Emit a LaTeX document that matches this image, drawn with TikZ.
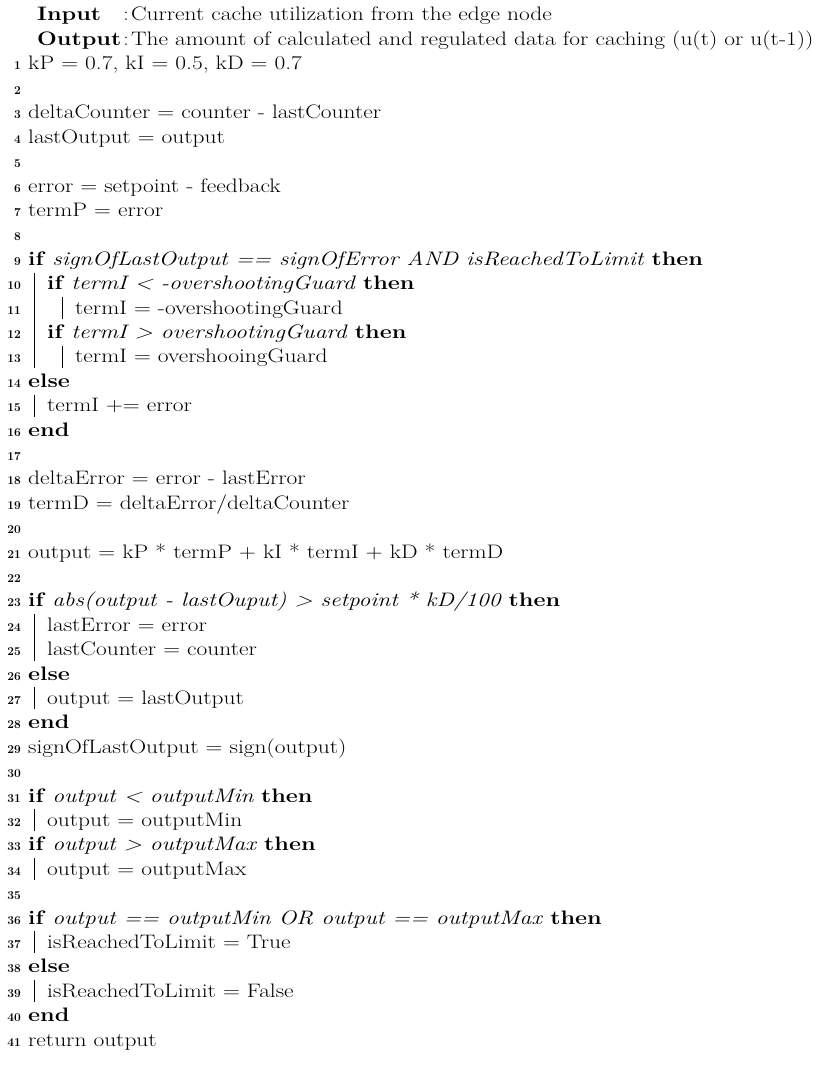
\documentclass[tikz,border=0pt]{standalone}
\usepackage{graphicx}
\newcommand\ly[1]{64+24.4*(#1-1)}
\newcommand\sx[1]{\scalebox{1.2}[1]{#1}}
\newcommand\algline[3]{%
 \node[anchor=base west,inner sep=0,font=\fontsize{19.5}{23}\selectfont] (l#1) at (#2,{\ly{#1}+6}) {\sx{#3}};
 \node[anchor=base east,inner sep=0,font=\fontsize{12}{14}\selectfont\bfseries] (n#1) at (21,{\ly{#1}+6}) {#1};}
\newcommand\algnum[1]{\node[anchor=base east,inner sep=0,font=\fontsize{12}{14}\selectfont\bfseries] (n#1) at (21,{\ly{#1}+6}) {#1};}
\newcommand\algbar[3]{\draw[line width=0.8pt] (#1,{\ly{#2}-11}) -- (#1,{\ly{#3}+11});}
\begin{document}
\begin{tikzpicture}[x=1pt,y=-1pt]
\useasboundingbox (0,0) rectangle (832,1070);
\tikzset{hd/.style={anchor=base west,inner sep=0,font=\fontsize{19.5}{23}\selectfont}}
\node[hd,font=\fontsize{19.5}{23}\selectfont\bfseries] (inp) at (37,21) {\sx{Input}};
\node[hd,font=\fontsize{19.5}{23}\selectfont\bfseries] (out) at (37,46) {\sx{Output}};
\node[hd] (inpc) at ([xshift=2pt]out.base east |- inp.base) {:};
\node[hd] (outc) at ([xshift=2pt]out.base east) {:};
\node[hd] (inpt) at ([xshift=2pt]inpc.base east) {\sx{Current cache utilization from the edge node}};
\node[hd] (outt) at ([xshift=2pt]outc.base east) {\sx{The amount of calculated and regulated data for caching (u(t) or u(t-1))}};
\algline{1}{28}{kP = 0.7, kI = 0.5, kD = 0.7}
\algnum{2}
\algline{3}{28}{deltaCounter = counter - lastCounter}
\algline{4}{28}{lastOutput = output}
\algnum{5}
\algline{6}{28}{error = setpoint - feedback}
\algline{7}{28}{termP = error}
\algnum{8}
\algline{9}{28}{\textbf{if} \textit{signOfLastOutput == signOfError AND isReachedToLimit} \textbf{then}}
\algline{10}{47}{\textbf{if} \textit{termI < -overshootingGuard} \textbf{then}}
\algline{11}{75}{termI = -overshootingGuard}
\algline{12}{47}{\textbf{if} \textit{termI > overshootingGuard} \textbf{then}}
\algline{13}{75}{termI = overshooingGuard}
\algline{14}{28}{\textbf{else}}
\algline{15}{47}{termI += error}
\algline{16}{28}{\textbf{end}}
\algnum{17}
\algline{18}{28}{deltaError = error - lastError}
\algline{19}{28}{termD = deltaError/deltaCounter}
\algnum{20}
\algline{21}{28}{output = kP * termP + kI * termI + kD * termD}
\algnum{22}
\algline{23}{28}{\textbf{if} \textit{abs(output - lastOuput) > setpoint * kD/100} \textbf{then}}
\algline{24}{47}{lastError = error}
\algline{25}{47}{lastCounter = counter}
\algline{26}{28}{\textbf{else}}
\algline{27}{47}{output = lastOutput}
\algline{28}{28}{\textbf{end}}
\algline{29}{28}{signOfLastOutput = sign(output)}
\algnum{30}
\algline{31}{28}{\textbf{if} \textit{output < outputMin} \textbf{then}}
\algline{32}{47}{output = outputMin}
\algline{33}{28}{\textbf{if} \textit{output > outputMax} \textbf{then}}
\algline{34}{47}{output = outputMax}
\algnum{35}
\algline{36}{28}{\textbf{if} \textit{output == outputMin OR output == outputMax} \textbf{then}}
\algline{37}{47}{isReachedToLimit = True}
\algline{38}{28}{\textbf{else}}
\algline{39}{47}{isReachedToLimit = False}
\algline{40}{28}{\textbf{end}}
\algline{41}{28}{return output}
\algbar{34}{10}{13}
\algbar{62}{11}{11}
\algbar{62}{13}{13}
\algbar{34}{15}{15}
\algbar{34}{24}{25}
\algbar{34}{27}{27}
\algbar{34}{32}{32}
\algbar{34}{34}{34}
\algbar{34}{37}{37}
\algbar{34}{39}{39}
\end{tikzpicture}
\end{document}
